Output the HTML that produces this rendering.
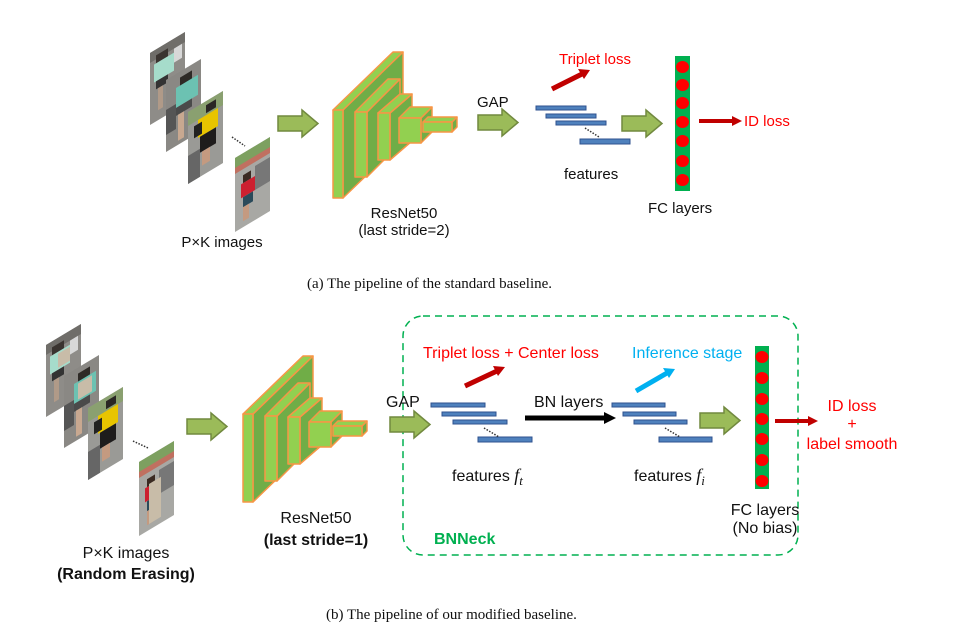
<!DOCTYPE html>
<html><head><meta charset="utf-8"><style>
html,body{margin:0;padding:0;background:#fff;}
svg{display:block;}
.s{font-family:"Liberation Sans",sans-serif;}
.r{font-family:"Liberation Serif",serif;}
</style></head><body>
<svg width="957" height="628" viewBox="0 0 957 628" xmlns="http://www.w3.org/2000/svg">
<defs>
<g id="img1">
<rect x="0" y="0" width="35" height="72" fill="#8e8c88"/>
<rect x="0" y="0" width="35" height="10" fill="#6f6d69"/>
<rect x="6" y="6" width="12" height="8" fill="#3a3430"/>
<rect x="4" y="14" width="20" height="18" fill="#a6dccb"/>
<rect x="6" y="32" width="12" height="8" fill="#333"/>
<rect x="8" y="40" width="5" height="22" fill="#b09a88"/>
<rect x="24" y="10" width="8" height="14" fill="#d8d8d8"/>
</g>
<g id="img2">
<rect x="0" y="0" width="35" height="72" fill="#8a8884"/>
<rect x="14" y="6" width="12" height="9" fill="#2e2a26"/>
<rect x="10" y="14" width="22" height="20" fill="#6cc2b2"/>
<rect x="10" y="34" width="16" height="8" fill="#4a4a4a"/>
<rect x="12" y="42" width="6" height="26" fill="#c8a890"/>
<rect x="0" y="30" width="10" height="25" fill="#555"/>
</g>
<g id="img3">
<rect x="0" y="0" width="35" height="72" fill="#9a9a96"/>
<rect x="0" y="0" width="35" height="14" fill="#8aa070"/>
<rect x="18" y="4" width="10" height="8" fill="#2a2624"/>
<rect x="10" y="14" width="20" height="18" fill="#e8c400"/>
<rect x="6" y="18" width="8" height="12" fill="#222"/>
<rect x="12" y="32" width="16" height="16" fill="#1e1c1c"/>
<rect x="14" y="48" width="8" height="14" fill="#c49a80"/>
<rect x="0" y="44" width="12" height="28" fill="#666"/>
</g>
<g id="img4">
<rect x="0" y="0" width="35" height="74" fill="#a8a8a4"/>
<rect x="0" y="0" width="35" height="14" fill="#7da060"/>
<rect x="0" y="10" width="35" height="6" fill="#c07060"/>
<rect x="8" y="22" width="8" height="8" fill="#3a2a22"/>
<rect x="6" y="30" width="14" height="14" fill="#cc2030"/>
<rect x="8" y="44" width="10" height="10" fill="#2a4a5a"/>
<rect x="8" y="54" width="6" height="14" fill="#c49a80"/>
<rect x="20" y="20" width="15" height="24" fill="#777"/>
</g>
<g id="arrowG">
<polygon points="0,6 24,6 24,0 40,13.5 24,27 24,21 0,21" fill="#9bbb59" stroke="#71893f" stroke-width="1.5"/>
</g>
</defs>

<!-- ======== TOP PANEL ======== -->
<g transform="matrix(1,-0.6,0,1,150,53)"><use href="#img1"/></g>
<g transform="matrix(1,-0.6,0,1,166,80)"><use href="#img2"/></g>
<g transform="matrix(1,-0.6,0,1,188,112)"><use href="#img3"/></g>
<line x1="232" y1="137" x2="245" y2="146" stroke="#333" stroke-width="1.5" stroke-dasharray="1.5,1.5"/>
<g transform="matrix(1,-0.6,0,1,235,158)"><use href="#img4"/></g>
<text x="222" y="247" class="s" font-size="15" text-anchor="middle" fill="#111">P×K images</text>

<use href="#arrowG" x="278" y="110"/>

<g id="resnet" stroke="#f79646" stroke-width="1.5" stroke-linejoin="round">
<polygon points="343,110 403,52 403,140 343,198" fill="#70ad47"/>
<polygon points="333,110 343,110 403,52 393,52" fill="#92d050"/>
<rect x="333" y="110" width="10" height="88" fill="#92d050"/>
<polygon points="367,112 400,79 400,144 367,177" fill="#70ad47"/>
<polygon points="355,112 367,112 400,79 388,79" fill="#92d050"/>
<rect x="355" y="112" width="12" height="65" fill="#92d050"/>
<polygon points="390,113 412,94 412,141 390,160" fill="#70ad47"/>
<polygon points="378,113 390,113 412,94 400,94" fill="#92d050"/>
<rect x="378" y="113" width="12" height="47" fill="#92d050"/>
<polygon points="421,118 432,107 432,132 421,143" fill="#70ad47"/>
<polygon points="399,118 421,118 432,107 410,107" fill="#92d050"/>
<rect x="399" y="118" width="22" height="25" fill="#92d050"/>
<polygon points="452,122 457,117 457,127 452,132" fill="#70ad47"/>
<polygon points="423,122 452,122 457,117 428,117" fill="#92d050"/>
<rect x="423" y="122" width="29" height="10" fill="#92d050"/>
</g>
<text x="404" y="218" class="s" font-size="15" text-anchor="middle" fill="#111">ResNet50</text>
<text x="404" y="235" class="s" font-size="15" text-anchor="middle" fill="#111">(last stride=2)</text>

<text x="477" y="107" class="s" font-size="15" fill="#111">GAP</text>
<use href="#arrowG" x="478" y="109"/>

<g fill="#4f81bd" stroke="#2f528f" stroke-width="1">
<rect x="536" y="106" width="50" height="4"/>
<rect x="546" y="114" width="50" height="4"/>
<rect x="556" y="121" width="50" height="4"/>
<rect x="580" y="139" width="50" height="5"/>
</g>
<line x1="585" y1="128" x2="599" y2="137" stroke="#333" stroke-width="1.5" stroke-dasharray="1.5,1.5"/>
<line x1="552" y1="89" x2="582" y2="74" stroke="#c00000" stroke-width="5"/>
<polygon points="590,70 578,69 584,79" fill="#c00000"/>
<text x="559" y="64" class="s" font-size="15" fill="#ff0000">Triplet loss</text>
<text x="564" y="179" class="s" font-size="15" fill="#111">features</text>

<use href="#arrowG" x="622" y="110"/>
<rect x="675" y="56" width="15" height="135" fill="#00b050"/>
<g fill="#ff0000">
<ellipse cx="682.5" cy="67" rx="6.5" ry="6"/><ellipse cx="682.5" cy="85" rx="6.5" ry="6"/>
<ellipse cx="682.5" cy="103" rx="6.5" ry="6"/><ellipse cx="682.5" cy="122" rx="6.5" ry="6"/>
<ellipse cx="682.5" cy="141" rx="6.5" ry="6"/><ellipse cx="682.5" cy="161" rx="6.5" ry="6"/>
<ellipse cx="682.5" cy="180" rx="6.5" ry="6"/>
</g>
<line x1="699" y1="121" x2="734" y2="121" stroke="#c00000" stroke-width="4"/>
<polygon points="742,121 732,116 732,126" fill="#c00000"/>
<text x="744" y="126" class="s" font-size="15" fill="#ff0000">ID loss</text>
<text x="648" y="213" class="s" font-size="15" fill="#111">FC layers</text>

<text x="307" y="288" class="r" font-size="15" fill="#111">(a)  The pipeline of the standard baseline.</text>

<!-- ======== BOTTOM PANEL ======== -->
<g transform="matrix(1,-0.6,0,1,46,345)"><use href="#img1"/><rect x="12" y="16" width="12" height="14" fill="#c8bca8"/></g>
<g transform="matrix(1,-0.6,0,1,64,376)"><use href="#img2"/><rect x="14" y="16" width="14" height="16" fill="#c8bca8"/></g>
<g transform="matrix(1,-0.6,0,1,88,408)"><use href="#img3"/></g>
<line x1="133" y1="441" x2="148" y2="448" stroke="#333" stroke-width="1.5" stroke-dasharray="1.5,1.5"/>
<g transform="matrix(1,-0.6,0,1,139,462)"><use href="#img4"/><rect x="10" y="28" width="12" height="40" fill="#c8bca8"/></g>
<text x="126" y="558" class="s" font-size="16" text-anchor="middle" fill="#111">P×K images</text>
<text x="126" y="579" class="s" font-size="16" font-weight="bold" text-anchor="middle" fill="#111">(Random Erasing)</text>

<use href="#arrowG" x="187" y="413"/>
<use href="#resnet" x="-90" y="304"/>
<text x="316" y="523" class="s" font-size="16" text-anchor="middle" fill="#111">ResNet50</text>
<text x="316" y="545" class="s" font-size="16" font-weight="bold" text-anchor="middle" fill="#111">(last stride=1)</text>

<rect x="403" y="316" width="395" height="239" rx="20" ry="20" fill="none" stroke="#00b050" stroke-width="1.5" stroke-dasharray="7,5"/>

<text x="386" y="407" class="s" font-size="16" fill="#111">GAP</text>
<use href="#arrowG" x="390" y="411"/>

<g fill="#4f81bd" stroke="#2f528f" stroke-width="1">
<rect x="431" y="403" width="54" height="4"/>
<rect x="442" y="412" width="54" height="4"/>
<rect x="453" y="420" width="54" height="4"/>
<rect x="478" y="437" width="54" height="5"/>
<rect x="612" y="403" width="53" height="4"/>
<rect x="623" y="412" width="53" height="4"/>
<rect x="634" y="420" width="53" height="4"/>
<rect x="659" y="437" width="53" height="5"/>
</g>
<line x1="484" y1="428" x2="499" y2="437" stroke="#333" stroke-width="1.5" stroke-dasharray="1.5,1.5"/>
<line x1="665" y1="428" x2="680" y2="437" stroke="#333" stroke-width="1.5" stroke-dasharray="1.5,1.5"/>

<line x1="465" y1="386" x2="497" y2="371" stroke="#c00000" stroke-width="5"/>
<polygon points="505,367 493,366 498,376" fill="#c00000"/>
<text x="423" y="358" class="s" font-size="16" fill="#ff0000">Triplet loss + Center loss</text>

<line x1="636" y1="391" x2="667" y2="373" stroke="#00b0f0" stroke-width="5"/>
<polygon points="675,369 663,368 669,378" fill="#00b0f0"/>
<text x="632" y="358" class="s" font-size="16" fill="#00b0f0">Inference stage</text>

<text x="534" y="407" class="s" font-size="16" fill="#111">BN layers</text>
<line x1="525" y1="418" x2="606" y2="418" stroke="#000" stroke-width="5"/>
<polygon points="616,418 604,412 604,424" fill="#000"/>

<text x="452" y="481" class="s" font-size="16" fill="#111">features <tspan class="r" font-style="italic" font-size="18">f</tspan><tspan class="r" font-style="italic" font-size="13" dy="4">t</tspan></text>
<text x="634" y="481" class="s" font-size="16" fill="#111">features <tspan class="r" font-style="italic" font-size="18">f</tspan><tspan class="r" font-style="italic" font-size="13" dy="4">i</tspan></text>

<use href="#arrowG" x="700" y="407"/>
<rect x="755" y="346" width="14" height="143" fill="#00b050"/>
<g fill="#ff0000">
<ellipse cx="762" cy="357" rx="6.5" ry="6"/><ellipse cx="762" cy="378" rx="6.5" ry="6"/>
<ellipse cx="762" cy="399" rx="6.5" ry="6"/><ellipse cx="762" cy="419" rx="6.5" ry="6"/>
<ellipse cx="762" cy="439" rx="6.5" ry="6"/><ellipse cx="762" cy="460" rx="6.5" ry="6"/>
<ellipse cx="762" cy="481" rx="6.5" ry="6"/>
</g>
<line x1="775" y1="421" x2="810" y2="421" stroke="#c00000" stroke-width="4"/>
<polygon points="818,421 808,416 808,426" fill="#c00000"/>
<text x="852" y="411" class="s" font-size="16" text-anchor="middle" fill="#ff0000">ID loss</text>
<text x="852" y="429" class="s" font-size="16" text-anchor="middle" fill="#ff0000">+</text>
<text x="852" y="449" class="s" font-size="16" text-anchor="middle" fill="#ff0000">label smooth</text>

<text x="765" y="515" class="s" font-size="16" text-anchor="middle" fill="#111">FC layers</text>
<text x="765" y="533" class="s" font-size="16" text-anchor="middle" fill="#111">(No bias)</text>
<text x="434" y="544" class="s" font-size="16" font-weight="bold" fill="#00b050">BNNeck</text>

<text x="326" y="619" class="r" font-size="15" fill="#111">(b)  The pipeline of our modified baseline.</text>
</svg>
</body></html>
